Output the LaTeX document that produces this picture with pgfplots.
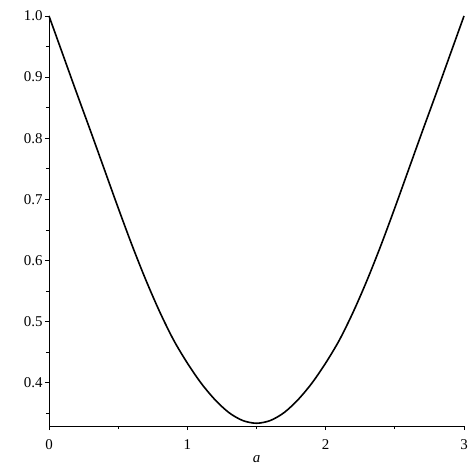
\documentclass[border=0pt]{standalone}
\usepackage{pgfplots}
\pgfplotsset{compat=1.18}
\usepackage{fontspec}
\setmainfont{Liberation Serif}

\pgfplotstableread{
a     v
0.0   1.000
0.1   0.937
0.2   0.874
0.3   0.812
0.4   0.749
0.5   0.686
0.6   0.625
0.7   0.568
0.8   0.516
0.9   0.470
1.0   0.432
1.1   0.399
1.2   0.372
1.3   0.351
1.4   0.338
1.5   0.3335
1.6   0.338
1.7   0.351
1.8   0.372
1.9   0.399
2.0   0.432
2.1   0.470
2.2   0.516
2.3   0.568
2.4   0.625
2.5   0.686
2.6   0.749
2.7   0.812
2.8   0.874
2.9   0.937
3.0   1.000
}\curve

\begin{document}
\begin{tikzpicture}
\useasboundingbox (-49bp,-48bp) rectangle (425bp,426bp);
\begin{axis}[
    scale only axis,
    width=415bp, height=410bp,
    xmin=0, xmax=3, ymin=0.329, ymax=1,
    axis x line*=bottom, axis y line*=left,
    axis line style={line width=0.9bp},
    xtick={0,1,2,3}, minor xtick={0.5,1.5,2.5},
    ytick={0.4,0.5,0.6,0.7,0.8,0.9,1.0},
    minor ytick={0.35,0.45,0.55,0.65,0.75,0.85,0.95},
    tick align=outside,
    major tick length=4bp, minor tick length=3bp,
    every tick/.style={black, line width=0.7bp},
    /pgf/number format/assume math mode=true,
    tick label style={font=\fontsize{15}{17}\selectfont},
    xticklabel style={yshift=-6bp},
    yticklabel style={xshift=1bp, /pgf/number format/.cd, fixed, fixed zerofill, precision=1},
    xlabel={\itshape a},
    xlabel style={font=\fontsize{15}{17}\selectfont, at={(axis description cs:0.5,0)}, anchor=center, yshift=-33bp},
    clip=false,
  ]
  \addplot[black, line width=1.6bp, smooth] table[x=a, y=v] {\curve};
\end{axis}
\end{tikzpicture}
\end{document}
